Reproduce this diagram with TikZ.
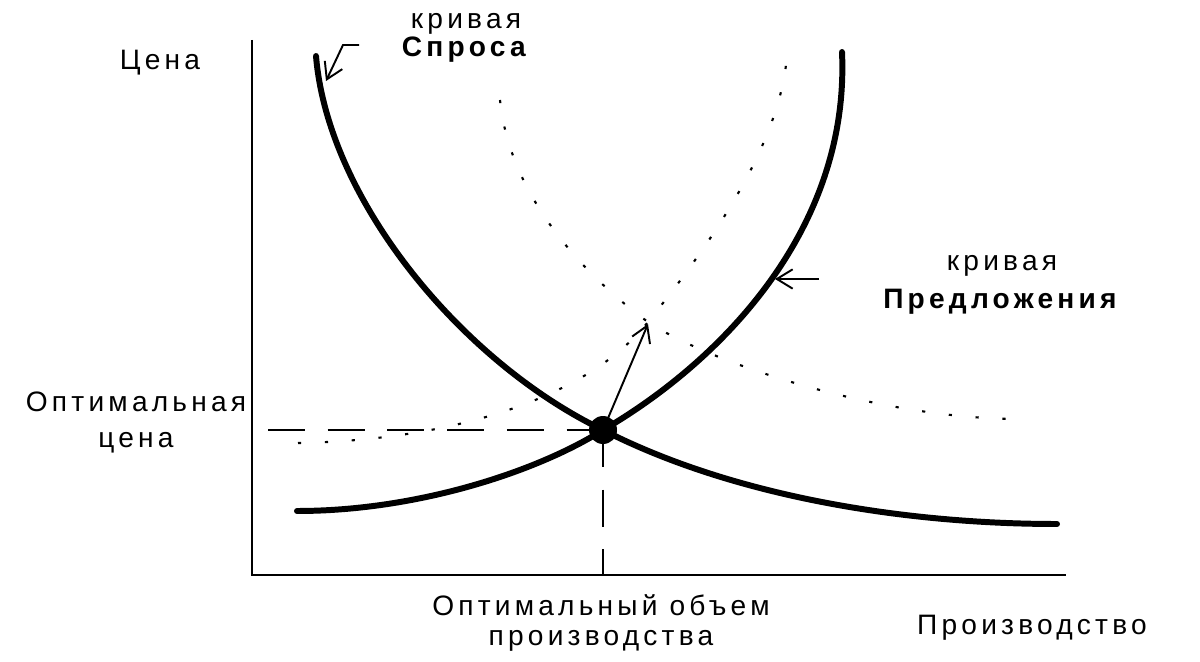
\documentclass[tikz,border=0pt]{standalone}
\usepackage{fontspec}
\setmainfont{Liberation Sans}[LetterSpace=15]
\usetikzlibrary{arrows.meta}
\begin{document}
\begin{tikzpicture}[x=0.02cm,y=-0.02cm,
    curve/.style={line width=3.4pt,line cap=round},
    shifted/.style={line width=1.2pt,dash pattern=on 1.8pt off 13.5pt},
    guide/.style={line width=1.1pt,dash pattern=on 21pt off 13pt},
    pointer/.style={line width=1.1pt,-{Straight Barb[length=9pt,width=11pt,line width=1.1pt]}},
    lbl/.style={font=\fontsize{16}{20}\selectfont,inner sep=0pt,align=center}]
  \useasboundingbox (0,0) rectangle (1200,662);
  % axes
  \draw[line width=1.7pt] (252,40) -- (252,575) -- (1066,575);
  % shifted curves
  \draw[shifted] (500,100) .. controls (510,200) and (590,280) .. (648,322)
                 .. controls (710,363) and (880,419) .. (1020,419);
  \draw[shifted] (298,443) .. controls (460,440) and (590,395) .. (648,322)
                 .. controls (700,257) and (780,150) .. (787,55);
  % demand and supply
  \draw[curve] (316,56) .. controls (328,200) and (462,362) .. (603,430)
               .. controls (730,495) and (900,524) .. (1057,524);
  \draw[curve] (297,511) .. controls (420,511) and (540,470) .. (603,430)
               .. controls (720,362) and (850,230) .. (842,52);
  % equilibrium
  \node[circle,fill,inner sep=0pt,minimum size=0.56cm] (opt) at (603,430) {};
  \draw[guide] (268,430) -- (opt.center);
  \draw[guide] (opt.center) -- (603,575);
  \coordinate (shifttip) at (648,324);
  \draw[pointer] (opt.center) -- (shifttip);
  % pointers to curves
  \coordinate (dtail) at (359,45);
  \coordinate (dtip) at (326,81);
  \draw[pointer] (dtail) -- (343,45) -- (dtip);
  \coordinate (stail) at (819,279);
  \coordinate (stip) at (775,279);
  \draw[pointer] (stail) -- (stip);
  % labels
  \node[lbl,anchor=base] (price) at (160,70) {Цена};
  \node[lbl,anchor=base] (demand) at (466,57) {кривая\\[-4pt]\textbf{Спроса}};
  \node[lbl,anchor=base] (supply) at (1002,308) {кривая\\[1.5pt]\textbf{Предложения}};
  \node[lbl,anchor=base] (optprice) at (136,447) {Оптимальная\\цена};
  \node[lbl,anchor=base] (optvolume) at (601,645) {Оптимальный объем\\[-3pt]производства};
  \node[lbl,anchor=base] (output) at (1032,634) {Производство};
\end{tikzpicture}
\end{document}
